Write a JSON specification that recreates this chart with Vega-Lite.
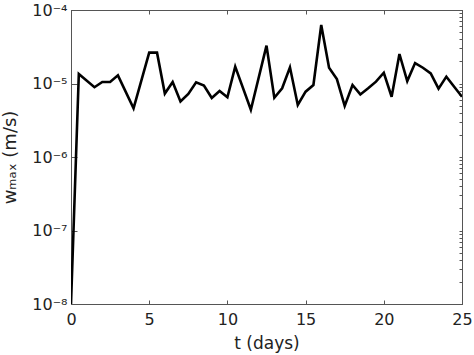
{
  "$schema": "https://vega.github.io/schema/vega-lite/v6.json",
  "width": 391,
  "height": 294,
  "autosize": "none",
  "padding": {"left": 71, "top": 10, "right": 12, "bottom": 51},
  "background": "white",
  "config": {
    "font": "DejaVu Sans",
    "view": {"stroke": "#555", "strokeWidth": 1},
    "axis": {"grid": false, "domainColor": "#555", "tickColor": "#555", "labelColor": "#222", "titleColor": "#222", "labelFont": "DejaVu Sans", "titleFont": "DejaVu Sans", "titleFontWeight": "normal", "labelFontSize": 16, "titleFontSize": 17}
  },
  "data": {
    "values": [
      {"t": 0, "w": 1e-8},
      {"t": 0.5, "w": 1.35e-5},
      {"t": 1.5, "w": 8.9e-6},
      {"t": 2, "w": 1.05e-5},
      {"t": 2.5, "w": 1.05e-5},
      {"t": 3, "w": 1.29e-5},
      {"t": 4, "w": 4.6e-6},
      {"t": 5, "w": 2.63e-5},
      {"t": 5.5, "w": 2.63e-5},
      {"t": 6, "w": 7.3e-6},
      {"t": 6.5, "w": 1.05e-5},
      {"t": 7, "w": 5.7e-6},
      {"t": 7.5, "w": 7.2e-6},
      {"t": 8, "w": 1.04e-5},
      {"t": 8.5, "w": 9.4e-6},
      {"t": 9, "w": 6.35e-6},
      {"t": 9.5, "w": 7.9e-6},
      {"t": 10, "w": 6.5e-6},
      {"t": 10.5, "w": 1.7e-5},
      {"t": 11.5, "w": 4.4e-6},
      {"t": 12.5, "w": 3.27e-5},
      {"t": 13, "w": 6.4e-6},
      {"t": 13.5, "w": 8.6e-6},
      {"t": 14, "w": 1.66e-5},
      {"t": 14.5, "w": 5.1e-6},
      {"t": 15, "w": 7.75e-6},
      {"t": 15.5, "w": 9.55e-6},
      {"t": 16, "w": 6.25e-5},
      {"t": 16.5, "w": 1.64e-5},
      {"t": 17, "w": 1.15e-5},
      {"t": 17.5, "w": 4.95e-6},
      {"t": 18, "w": 9.55e-6},
      {"t": 18.5, "w": 7.1e-6},
      {"t": 19, "w": 8.6e-6},
      {"t": 19.5, "w": 1.06e-5},
      {"t": 20, "w": 1.4e-5},
      {"t": 20.5, "w": 6.6e-6},
      {"t": 21, "w": 2.52e-5},
      {"t": 21.5, "w": 1.08e-5},
      {"t": 22, "w": 1.9e-5},
      {"t": 22.5, "w": 1.64e-5},
      {"t": 23, "w": 1.37e-5},
      {"t": 23.5, "w": 8.5e-6},
      {"t": 24, "w": 1.24e-5},
      {"t": 25, "w": 6.6e-6}
    ]
  },
  "resolve": {"axis": {"x": "independent", "y": "independent"}},
  "layer": [
    {
      "mark": {"type": "line", "color": "black", "strokeWidth": 2.6, "strokeJoin": "miter", "clip": true},
      "encoding": {
        "x": {
          "field": "t", "type": "quantitative",
          "scale": {"domain": [0, 25], "nice": false, "zero": false},
          "axis": {"title": "t (days)", "values": [0, 5, 10, 15, 20, 25], "tickSize": -4, "labelPadding": 11, "titlePadding": 8, "labelFlush": false, "labelOverlap": false}
        },
        "y": {
          "field": "w", "type": "quantitative",
          "scale": {"type": "log", "domain": [1e-8, 1e-4], "nice": false},
          "axis": {
            "title": "wₘₐₓ (m/s)",
            "values": [1e-8, 1e-7, 1e-6, 1e-5, 1e-4],
            "labelExpr": "'10' + ['⁰','⁻¹','⁻²','⁻³','⁻⁴','⁻⁵','⁻⁶','⁻⁷','⁻⁸'][round(-log(datum.value)/LN10)]",
            "tickSize": -6,
            "labelPadding": 10,
            "titlePadding": 12,
            "titleFontSize": 18,
            "labelFlush": false,
            "labelOverlap": false
          }
        }
      }
    },
    {
      "mark": {"type": "line", "strokeOpacity": 0},
      "encoding": {
        "x": {
          "field": "t", "type": "quantitative",
          "scale": {"domain": [0, 25], "nice": false, "zero": false},
          "axis": {"orient": "top", "title": null, "labels": false, "values": [0, 5, 10, 15, 20, 25], "tickSize": -4}
        },
        "y": {
          "field": "w", "type": "quantitative",
          "scale": {"type": "log", "domain": [1e-8, 1e-4], "nice": false},
          "axis": {
            "orient": "right", "title": null, "labels": false, "tickSize": -3,
            "values": [1e-8,2e-8,3e-8,4e-8,5e-8,6e-8,7e-8,8e-8,9e-8,1e-7,2e-7,3e-7,4e-7,5e-7,6e-7,7e-7,8e-7,9e-7,1e-6,2e-6,3e-6,4e-6,5e-6,6e-6,7e-6,8e-6,9e-6,1e-5,2e-5,3e-5,4e-5,5e-5,6e-5,7e-5,8e-5,9e-5,1e-4]
          }
        }
      }
    }
  ]
}
